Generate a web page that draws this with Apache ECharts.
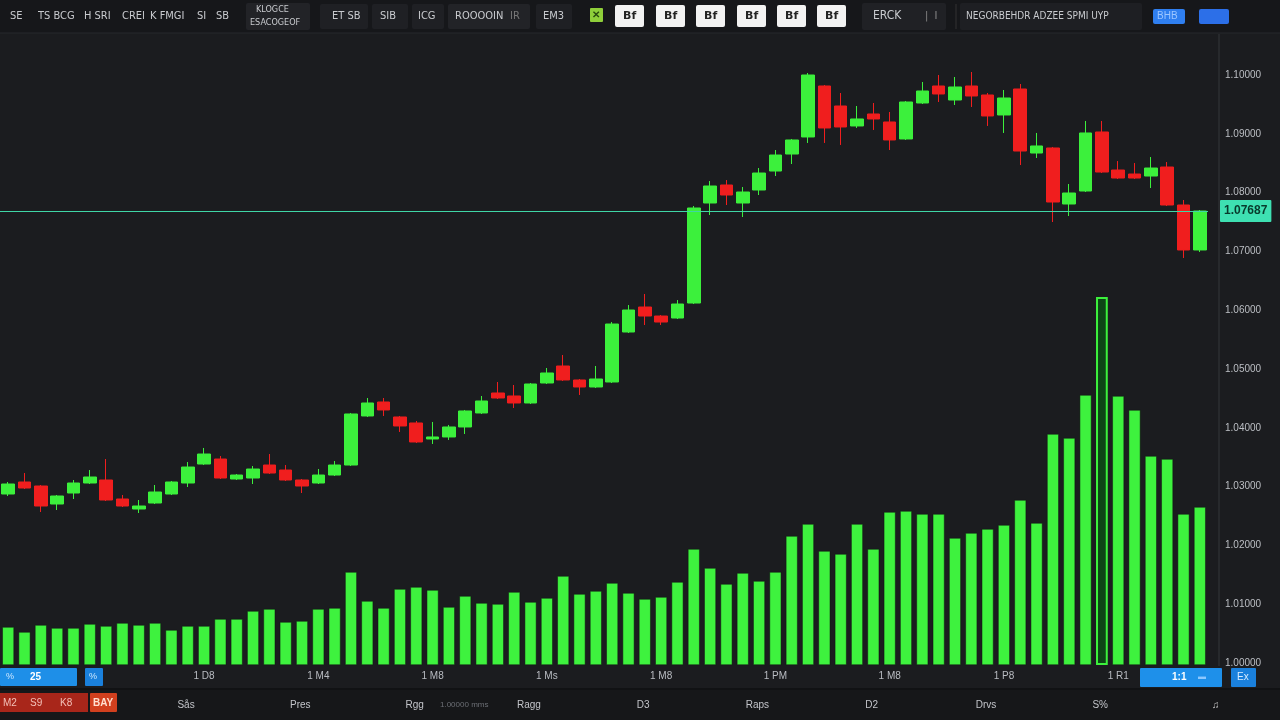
<!DOCTYPE html>
<html>
<head>
<meta charset="utf-8">
<script src="https://cdn.jsdelivr.net/npm/echarts@6/dist/echarts.min.js"></script>
<style>
html,body{margin:0;padding:0;background:#1b1c1f;}
#c{width:1280px;height:720px;}
</style>
</head>
<body>
<div id="c"></div>
<script>
// ---- data ----
const opens  = [1.02874,1.03078,1.03010,1.02704,1.02891,1.03061,1.03112,1.02789,1.02619,1.02721,1.02874,1.03061,1.03384,1.03469,1.03129,1.03146,1.03367,1.03282,1.03112,1.03061,1.03197,1.03367,1.04201,1.04439,1.04184,1.04082,1.03810,1.03844,1.04014,1.04252,1.04592,1.04541,1.04422,1.04762,1.05051,1.04813,1.04694,1.04779,1.05629,1.06054,1.05901,1.05867,1.06122,1.07823,1.08129,1.07823,1.08044,1.08367,1.08656,1.08946,1.09813,1.09473,1.09133,1.09337,1.09201,1.08912,1.09524,1.09813,1.09575,1.09813,1.09660,1.09320,1.09762,1.08673,1.08759,1.07806,1.08027,1.09031,1.08384,1.08316,1.08282,1.08435,1.07789,1.07024];
const closes = [1.03044,1.02976,1.02670,1.02840,1.03061,1.03163,1.02772,1.02670,1.02670,1.02908,1.03078,1.03333,1.03554,1.03146,1.03197,1.03299,1.03231,1.03112,1.03010,1.03197,1.03367,1.04235,1.04422,1.04303,1.04031,1.03759,1.03844,1.04014,1.04286,1.04456,1.04507,1.04422,1.04745,1.04932,1.04813,1.04694,1.04830,1.05765,1.06003,1.05901,1.05799,1.06105,1.07738,1.08112,1.07959,1.08010,1.08333,1.08639,1.08895,1.10000,1.09099,1.09116,1.09252,1.09252,1.08895,1.09541,1.09728,1.09677,1.09796,1.09643,1.09303,1.09609,1.08707,1.08793,1.07840,1.07993,1.09014,1.08350,1.08248,1.08248,1.08418,1.07789,1.07024,1.07687];
const lows   = [1.02840,1.02959,1.02568,1.02602,1.02789,1.03044,1.02755,1.02653,1.02551,1.02704,1.02857,1.02993,1.03367,1.03129,1.03112,1.03044,1.03214,1.03095,1.02891,1.03044,1.03180,1.03350,1.04184,1.04201,1.03929,1.03742,1.03725,1.03793,1.03895,1.04235,1.04490,1.04337,1.04405,1.04745,1.04796,1.04558,1.04677,1.04762,1.05612,1.05748,1.05748,1.05850,1.06105,1.07619,1.07789,1.07585,1.07959,1.08282,1.08486,1.08844,1.08844,1.08810,1.09099,1.09065,1.08724,1.08895,1.09507,1.09541,1.09490,1.09456,1.09133,1.09014,1.08469,1.08588,1.07500,1.07602,1.08010,1.08333,1.08231,1.08231,1.08078,1.07772,1.06888,1.06990];
const highs  = [1.03078,1.03231,1.03027,1.02857,1.03112,1.03282,1.03469,1.02857,1.02772,1.03027,1.03095,1.03418,1.03657,1.03520,1.03214,1.03350,1.03554,1.03367,1.03129,1.03299,1.03435,1.04252,1.04507,1.04507,1.04201,1.04116,1.04099,1.04048,1.04303,1.04541,1.04779,1.04728,1.04762,1.05017,1.05238,1.04830,1.05051,1.05799,1.06088,1.06276,1.05918,1.06173,1.07772,1.08197,1.08214,1.08095,1.08418,1.08724,1.08912,1.10034,1.09830,1.09694,1.09473,1.09524,1.09371,1.09558,1.09881,1.10000,1.09966,1.10051,1.09694,1.09745,1.09847,1.09014,1.08776,1.08146,1.09218,1.09218,1.08537,1.08503,1.08605,1.08520,1.07874,1.07704];
const volumes = [3800,3300,4000,3700,3700,4100,3900,4200,4000,4200,3500,3900,3900,4600,4600,5400,5600,4300,4400,5600,5700,9300,6400,5700,7600,7800,7500,5800,6900,6200,6100,7300,6300,6700,8900,7100,7400,8200,7200,6600,6800,8300,11600,9700,8100,9200,8400,9300,12900,14100,11400,11100,14100,11600,15300,15400,15100,15100,12700,13200,13600,14000,16500,14200,23100,22700,27000,36800,26900,25500,20900,20600,15100,15800];
const highlightIndex = 67;
const categories = opens.map((_, i) => 'C' + (i + 1));
const topTickLabels = ['1 D8','1 M4','1 M8','1 Ms','1 M8','1 PM','1 M8','1 P8','1 R1'];
const bottomTickLabels = ['Sås','Pres','Rgg','Ragg','D3','Raps','D2','Drvs','S%'];
const firstTickIndex = 12, tickStep = 7;

const UP = '#3cf03c', DOWN = '#f01e1e', PRICE_LINE = '#3fd6a6';
const chart = echarts.init(document.getElementById('c'), null, {renderer:'canvas'});

const candleData = opens.map((o, i) => [o, closes[i], lows[i], highs[i]]);
const volData = volumes.map((v, i) => i === highlightIndex
  ? {value: v, itemStyle: {color: '#0e4416', borderColor: '#3cf03c', borderWidth: 2}}
  : v);
const lastClose = closes[closes.length - 1];

function tickFmt(arr) {
  return (v, idx) => (idx >= firstTickIndex && (idx - firstTickIndex) % tickStep === 0)
    ? (arr[(idx - firstTickIndex) / tickStep] || '') : '';
}

const txt = (x, y, s, o) => Object.assign({type:'text', x, y, style:Object.assign({text:s, fill:'#c9cbcf', font:'11px "DejaVu Sans Condensed", "Liberation Sans", sans-serif', textVerticalAlign:'middle'}, o||{})});
const rect = (x, y, w, h, fill, extra) => Object.assign({type:'rect', shape:{x, y, width:w, height:h, r:2}, style:{fill}}, extra||{});

const graphics = [
  rect(0, 0, 1280, 33, '#16171a', {shape:{x:0,y:0,width:1280,height:33}}),
  {type:'line', shape:{x1:0,y1:33,x2:1280,y2:33}, style:{stroke:'#26282c', lineWidth:1}},
  txt(10, 16, 'SE'), txt(38, 16, 'TS BCG'), txt(84, 16, 'H SRI'),
  txt(122, 16, 'CREI'), txt(150, 16, 'K FMGI'), txt(197, 16, 'SI'), txt(216, 16, 'SB'),
  rect(246, 3, 64, 27, '#222327'),
  txt(256, 10, 'KLOGCE', {font:'9px "DejaVu Sans Condensed", sans-serif'}),
  txt(250, 23, 'ESACOGEOF', {font:'9px "DejaVu Sans Condensed", sans-serif'}),
  rect(320, 4, 48, 25, '#1f2024'), txt(332, 16, 'ET SB'),
  rect(372, 4, 36, 25, '#1f2024'), txt(380, 16, 'SIB'),
  rect(412, 4, 32, 25, '#1f2024'), txt(418, 16, 'ICG'),
  rect(448, 4, 82, 25, '#222327'), txt(455, 16, 'ROOOOIN'), txt(510, 16, 'IR', {fill:'#777'}),
  rect(536, 4, 36, 25, '#1f2024'), txt(543, 16, 'EM3'),
  rect(590, 8, 13, 14, '#8fcf3a', {shape:{x:590,y:8,width:13,height:14,r:1}}),
  txt(592, 15, '✕', {fill:'#2a4a10', font:'bold 10px sans-serif'}),
  ...[615, 656, 696, 737, 777, 817].flatMap(x => [
    rect(x, 5, 29, 22, '#f2f2f2'),
    txt(x + 8, 16, 'Bf', {fill:'#222', font:'bold 11px "DejaVu Sans", sans-serif'})
  ]),
  rect(862, 3, 84, 27, '#202125'),
  txt(873, 16, 'ERCK', {font:'12px "DejaVu Sans Condensed", sans-serif'}),
  txt(925, 16, '|  I', {fill:'#888'}),
  {type:'line', shape:{x1:956,y1:4,x2:956,y2:29}, style:{stroke:'#333', lineWidth:1}},
  rect(960, 3, 182, 27, '#1e1f23'),
  txt(966, 16, 'NEGORBEHDR ADZEE SPMI UYP', {font:'10px "DejaVu Sans Condensed", sans-serif'}),
  rect(1153, 9, 32, 15, '#2f7ff0'), txt(1157, 16, 'BHB', {fill:'#9cc6ff', font:'10px sans-serif'}),
  rect(1199, 9, 30, 15, '#2c6fe8'),
  // right price-axis divider
  {type:'line', shape:{x1:1219,y1:34,x2:1219,y2:666}, style:{stroke:'#34363b', lineWidth:1}},
  // bottom strip
  {type:'line', shape:{x1:0,y1:689,x2:1280,y2:689}, style:{stroke:'#111214', lineWidth:2}},
  rect(0, 690, 1280, 30, '#161719', {shape:{x:0,y:690,width:1280,height:30}}),
  rect(0, 668, 77, 18, '#1e8fe8', {shape:{x:0,y:668,width:77,height:18,r:1}}),
  txt(6, 677, '%', {fill:'#cfe8ff', font:'9px sans-serif'}),
  txt(30, 677, '25', {fill:'#ffffff', font:'bold 10px sans-serif'}),
  rect(85, 668, 18, 18, '#1a80dc', {shape:{x:85,y:668,width:18,height:18,r:1}}),
  txt(89, 677, '%', {fill:'#cfe8ff', font:'9px sans-serif'}),
  rect(0, 693, 88, 19, '#a8261a', {shape:{x:0,y:693,width:88,height:19,r:0}}),
  txt(3, 703, 'M2', {fill:'#f3c0b8', font:'10px sans-serif'}),
  txt(30, 703, 'S9', {fill:'#f3c0b8', font:'10px sans-serif'}),
  txt(60, 703, 'K8', {fill:'#f3c0b8', font:'10px sans-serif'}),
  rect(90, 693, 27, 19, '#d2401e', {shape:{x:90,y:693,width:27,height:19,r:1}}),
  txt(93, 703, 'BAY', {fill:'#ffe0d0', font:'bold 10px sans-serif'}),
  txt(440, 705, '1.00000 mms', {fill:'#6c6f75', font:'8px sans-serif'}),
  rect(1140, 668, 82, 19, '#1e90ea', {shape:{x:1140,y:668,width:82,height:19,r:1}}),
  txt(1172, 677, '1:1', {fill:'#ffffff', font:'bold 10px sans-serif'}),
  txt(1198, 677, '▬', {fill:'#8cc8ff', font:'8px sans-serif'}),
  rect(1231, 668, 25, 19, '#1a80dc', {shape:{x:1231,y:668,width:25,height:19,r:1}}),
  txt(1237, 677, 'Ex', {fill:'#d8ecff', font:'10px sans-serif'}),
  txt(1212, 705, '♫', {fill:'#c0c0c0', font:'10px sans-serif'})
];

const option = {
  backgroundColor: '#1b1c1f',
  animation: false,
  grid: [
    {left: -3, width: 1211, top: 75, bottom: 57},
    {left: -3, width: 1211, top: 65, bottom: 55}
  ],
  xAxis: [
    {type:'category', gridIndex:0, data:categories, boundaryGap:true,
     axisLine:{show:false}, axisTick:{show:false}, axisLabel:{show:false}, splitLine:{show:false}},
    {type:'category', gridIndex:1, data:categories, boundaryGap:true,
     axisLine:{show:false}, axisTick:{show:false}, splitLine:{show:false},
     axisLabel:{interval:0, color:'#b9bcc2', fontSize:10, margin:6, formatter: tickFmt(topTickLabels)}},
    {type:'category', gridIndex:1, data:categories, boundaryGap:true, position:'bottom', offset:29,
     axisLine:{show:false}, axisTick:{show:false}, splitLine:{show:false},
     axisLabel:{interval:0, color:'#c3c5ca', fontSize:10, margin:6, padding:[0,36,0,0], formatter: tickFmt(bottomTickLabels)}}
  ],
  yAxis: [
    {type:'value', gridIndex:0, position:'right', offset:11, min:1.00, max:1.10, interval:0.01, scale:true,
     axisLine:{show:false}, axisTick:{show:false}, splitLine:{show:false},
     axisLabel:{color:'#bcbfc4', fontSize:10, margin:6, formatter: v => v.toFixed(5)}},
    {type:'value', gridIndex:1, min:0, max:60000, show:false, splitLine:{show:false}}
  ],
  series: [
    {type:'bar', xAxisIndex:1, yAxisIndex:1, data: volData, barWidth:'72%',
     itemStyle:{color:'#3ef23e', borderColor:'#101510', borderWidth:0.5}},
    {type:'candlestick', xAxisIndex:0, yAxisIndex:0, data: candleData, barWidth:'80%', clip:false,
     itemStyle:{color:UP, color0:DOWN, borderColor:UP, borderColor0:DOWN, borderWidth:1},
     markLine:{symbol:['none','none'], silent:true, precision:5,
       lineStyle:{color:PRICE_LINE, width:1.2, type:'solid', opacity:1},
       label:{position:'end', distance:12, formatter: p => Number(p.value).toFixed(5),
              backgroundColor:'#3ee0b2', color:'#083a2c', fontWeight:'bold', fontSize:12, padding:[5,4,5,4], borderRadius:1},
       data:[{yAxis:lastClose, lineStyle:{color:PRICE_LINE, width:1.2, type:'solid'}}]}}
  ],
  graphic: graphics
};
chart.setOption(option);
</script>
</body>
</html>
